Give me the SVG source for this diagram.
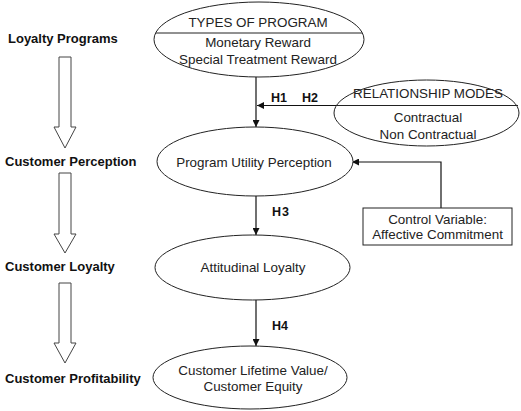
<svg xmlns="http://www.w3.org/2000/svg" width="521" height="411" viewBox="0 0 521 411">
<defs>
<marker id="ah" viewBox="0 0 10 10" refX="10" refY="5" markerWidth="7" markerHeight="7" markerUnits="userSpaceOnUse" orient="auto">
<path d="M0,0 L10,5 L0,10 Z" fill="#111"/>
</marker>
</defs>
<style>
.n{fill:#fff;stroke:#222;stroke-width:1}
.t{font-family:"Liberation Sans",Arial,sans-serif;font-size:13.4px;fill:#222;text-anchor:middle}
.b{font-family:"Liberation Sans",Arial,sans-serif;font-size:13px;font-weight:bold;fill:#111}
.h{font-family:"Liberation Sans",Arial,sans-serif;font-size:12.5px;font-weight:bold;fill:#111}
.c{fill:none;stroke:#111;stroke-width:1.2}
.big{fill:#fff;stroke:#444;stroke-width:1}
</style>
<rect width="521" height="411" fill="#fff"/>

<g id="stages">
<text class="b" x="8" y="43">Loyalty Programs</text>
<text class="b" x="5" y="166">Customer Perception</text>
<text class="b" x="5" y="271">Customer Loyalty</text>
<text class="b" x="5" y="383">Customer Profitability</text>
<polygon class="big" points="59,57 71,57 71,127 76,127 65,148 54,127 59,127"/>
<polygon class="big" points="59,173 71,173 71,234 76,234 65,253 54,234 59,234"/>
<polygon class="big" points="59,283 71,283 71,343 76,343 65,363 54,343 59,343"/>
</g>

<g id="connectors">
<line class="c" x1="256" y1="77" x2="256" y2="127" marker-end="url(#ah)"/>
<line class="c" x1="340" y1="105.5" x2="257" y2="105.5" marker-end="url(#ah)"/>
<polyline class="c" points="441,208 441,162 352,162" marker-end="url(#ah)"/>
<line class="c" x1="256" y1="196" x2="256" y2="235" marker-end="url(#ah)"/>
<line class="c" x1="256" y1="300" x2="256" y2="346" marker-end="url(#ah)"/>
<text class="h" x="271" y="102">H1</text>
<text class="h" x="302" y="102">H2</text>
<text class="h" x="272" y="216" letter-spacing="1">H3</text>
<text class="h" x="272" y="330">H4</text>
</g>

<g id="types-of-program">
<ellipse class="n" cx="259" cy="39.5" rx="105" ry="37.5"/>
<line x1="156" y1="33" x2="362" y2="33" stroke="#222" stroke-width="1"/>
<text class="t" x="258" y="27">TYPES OF PROGRAM</text>
<text class="t" x="258" y="47">Monetary Reward</text>
<text class="t" x="258" y="64">Special Treatment Reward</text>
</g>

<g id="relationship-modes">
<ellipse class="n" cx="426.5" cy="113" rx="92.5" ry="33"/>
<line x1="336" y1="105.5" x2="518" y2="105.5" stroke="#222" stroke-width="1"/>
<text class="t" x="428" y="98">RELATIONSHIP MODES</text>
<text class="t" x="428" y="122">Contractual</text>
<text class="t" x="428" y="139">Non Contractual</text>
</g>

<g id="program-utility">
<ellipse class="n" cx="255" cy="161.5" rx="98" ry="34.5"/>
<text class="t" x="254" y="167">Program Utility Perception</text>
</g>

<g id="control-variable">
<rect class="n" x="363" y="208" width="149" height="37"/>
<text class="t" x="437.5" y="224">Control Variable:</text>
<text class="t" x="437.5" y="239">Affective Commitment</text>
</g>

<g id="attitudinal-loyalty">
<ellipse class="n" cx="252.5" cy="267.5" rx="97.5" ry="32.5"/>
<text class="t" x="253" y="272">Attitudinal Loyalty</text>
</g>

<g id="clv">
<ellipse class="n" cx="250" cy="377.5" rx="97" ry="31.5"/>
<text class="t" x="253" y="375">Customer Lifetime Value/</text>
<text class="t" x="253" y="391">Customer Equity</text>
</g>
</svg>
